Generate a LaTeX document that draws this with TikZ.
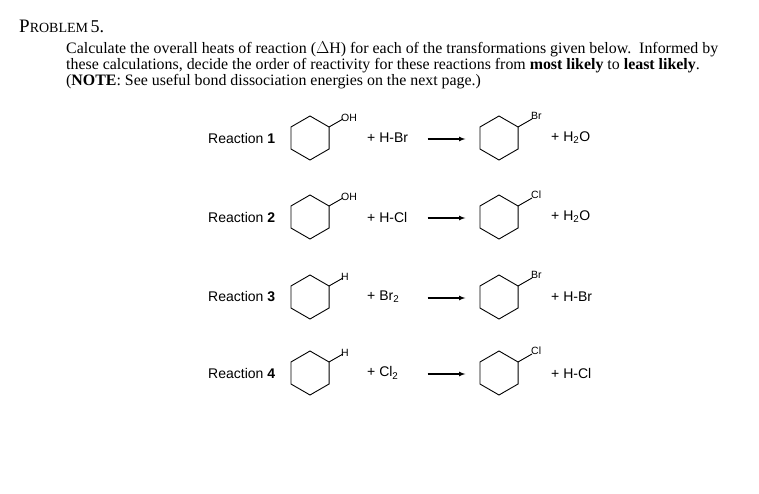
\documentclass[tikz,border=0pt]{standalone}
\usepackage{fontspec}
\setmainfont{Liberation Serif}
\newfontfamily\hv{Liberation Sans}
\begin{document}
\begin{tikzpicture}[x=1pt,y=-1pt,
  bondline/.style={line width=0.9pt},
  rxn/.style={font=\hv\fontsize{14}{16}\selectfont,inner sep=0pt},
  sub/.style={font=\hv\fontsize{10.5}{11}\selectfont,inner sep=0pt},
  body/.style={font=\fontsize{15.9}{16}\selectfont,inner sep=0pt,anchor=north west,align=left}]
\useasboundingbox[fill=white] (0,0) rectangle (759,494);
\node[anchor=west,inner sep=0pt] (title) at (19,26) {{\fontsize{19}{20}\selectfont P}{\fontsize{14}{16}\selectfont ROBLEM} {\fontsize{18}{20}\selectfont 5.}};
\node[body] (txt) at (66,41) {Calculate the overall heats of reaction ($\Delta$H) for each of the transformations given below.\ \ Informed by\\these calculations, decide the order of reactivity for these reactions from \textbf{most likely} to \textbf{least likely}.\\(\textbf{NOTE}: See useful bond dissociation energies on the next page.)};
\foreach \y/\n/\ra/\rb/\pa/\pb in {
 138/1/OH/Br/+ H-Br/+ H\textsubscript{2}O,
 217/2/OH/Cl/+ H-Cl/+ H\textsubscript{2}O,
 297/3/H/Br/+ Br\textsubscript{2}/+ H-Br,
 373/4/H/Cl/+ Cl\textsubscript{2}/+ H-Cl}{
  \node[rxn,anchor=west] (lab\n) at (208,\y) {Reaction \textbf{\n}};
  \draw[bondline] (310,\y) ++(90:22) -- ++(-30:22) -- ++(-90:22) -- ++(-150:22) -- ++(150:22) -- ++(90:22) -- cycle;
  \coordinate (va\n) at (329,\y-11);
  \coordinate (ea\n) at (343,\y-19);
  \draw[bondline] (va\n) -- (ea\n);
  \node[sub,anchor=south west] (sa\n) at (341,\y-16) {\ra};
  \node[rxn,anchor=west] (ra\n) at (367,\y) {\pa};
  \node[inner sep=0pt] (as\n) at (427,\y+1) {};
  \node[inner sep=0pt] (ae\n) at (466,\y+1) {};
  \draw[line width=1.1pt,-latex] (as\n) -- (ae\n);
  \draw[bondline] (499,\y) ++(90:22) -- ++(-30:22) -- ++(-90:22) -- ++(-150:22) -- ++(150:22) -- ++(90:22) -- cycle;
  \coordinate (vb\n) at (518,\y-11);
  \coordinate (eb\n) at (532,\y-19);
  \draw[bondline] (vb\n) -- (eb\n);
  \node[sub,anchor=south west] (sb\n) at (531,\y-18) {\rb};
  \node[rxn,anchor=west] (rb\n) at (551,\y) {\pb};
}
\end{tikzpicture}
\end{document}
